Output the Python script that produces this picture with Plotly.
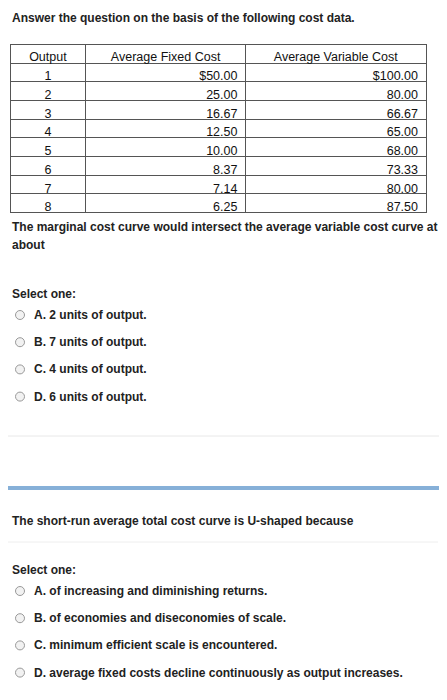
import plotly.graph_objects as go

output = [1, 2, 3, 4, 5, 6, 7, 8]
afc = [50.00, 25.00, 16.67, 12.50, 10.00, 8.37, 7.14, 6.25]
avc = [100.00, 80.00, 66.67, 65.00, 68.00, 73.33, 80.00, 87.50]
headers = ["Output", "Average Fixed Cost", "Average Variable Cost"]
q1 = "Answer the question on the basis of the following cost data."
q1b = ["The marginal cost curve would intersect the average variable cost curve at", "about"]
opts1 = ["A. 2 units of output.", "B. 7 units of output.", "C. 4 units of output.", "D. 6 units of output."]
q2 = "The short-run average total cost curve is U-shaped because"
opts2 = ["A. of increasing and diminishing returns.", "B. of economies and diseconomies of scale.",
         "C. minimum efficient scale is encountered.", "D. average fixed costs decline continuously as output increases."]

OFF = 8  # page body margin
W, H = 447 - 2 * OFF, 700 - 2 * OFF
def fy(y): return 1 - (y - OFF) / H
def fx(x): return (x - OFF) / W

def money(vals):
    return [("$" if i == 0 else "") + f"{v:.2f}" for i, v in enumerate(vals)]

FONT = "Liberation Sans, Arial, sans-serif"
fig = go.Figure()
fig.add_trace(go.Table(
    domain=dict(x=[fx(10), fx(427)], y=[fy(216), fy(44)]),
    columnwidth=[76, 160, 181],
    header=dict(values=headers, align="center", height=19,
                line=dict(color="#555", width=1), fill=dict(color="white"),
                font=dict(family=FONT, size=12.5, color="#111")),
    cells=dict(values=[[str(o) for o in output], money(afc), money(avc)],
               align=["center", "right", "right"], height=18.7,
               line=dict(color="#555", width=1), fill=dict(color="white"),
               font=dict(family=FONT, size=12.5, color="#111")),
))

ann = []
def text(x, y, s, size=12):
    ann.append(dict(x=fx(x), y=fy(y), xref="paper", yref="paper", text="<b>" + s + "</b>",
                    showarrow=False, xanchor="left", yanchor="middle",
                    font=dict(family=FONT, size=size, color="#222")))
shapes = []
def radio(y):
    shapes.append(dict(type="circle", xref="paper", yref="paper",
                       x0=fx(15.5), x1=fx(24.5), y0=fy(y + 4.5), y1=fy(y - 4.5),
                       line=dict(color="#999", width=1), fillcolor="#f2f2f2"))

text(10, 18, q1)
text(10, 227, q1b[0])
text(10, 245, q1b[1])
text(10, 294, "Select one:")
for i, o in enumerate(opts1):
    y = 315 + i * 27.2
    radio(y); text(32, y, o)
shapes.append(dict(type="line", xref="paper", yref="paper", x0=fx(0), x1=1, y0=fy(436), y1=fy(436),
                   line=dict(color="#e8e8e8", width=1)))
shapes.append(dict(type="rect", xref="paper", yref="paper", x0=fx(1), x1=1, y0=fy(490), y1=fy(486),
                   line=dict(width=0), fillcolor="#86b0d8"))
text(10, 521, q2)
shapes.append(dict(type="line", xref="paper", yref="paper", x0=fx(8), x1=fx(438), y0=fy(542), y1=fy(542),
                   line=dict(color="#eeeeee", width=1)))
text(10, 570, "Select one:")
for i, o in enumerate(opts2):
    y = 591 + i * 27.2
    radio(y); text(32, y, o)

fig.update_layout(width=W, height=H, margin=dict(l=0, r=0, t=0, b=0),
                  paper_bgcolor="white", plot_bgcolor="white",
                  xaxis=dict(visible=False, range=[0, 1]), yaxis=dict(visible=False, range=[0, 1]),
                  annotations=ann, shapes=shapes, showlegend=False)
fig.write_html("out.html")
